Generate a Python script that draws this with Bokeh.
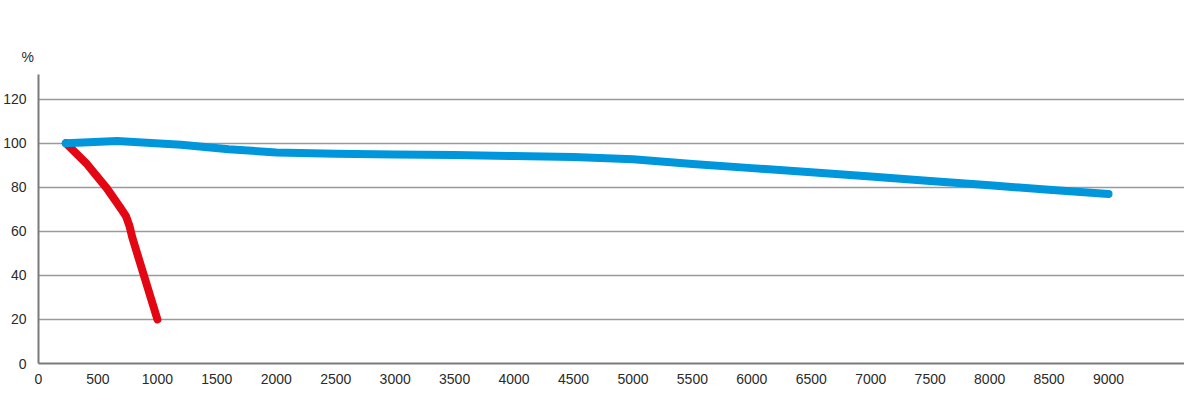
from bokeh.plotting import figure
from bokeh.models import Range1d, FixedTicker, Title
from bokeh.embed import file_html
from bokeh.resources import INLINE

# values
x_ticks = list(range(0, 9001, 500))
y_ticks = [0, 20, 40, 60, 80, 100, 120]

blue_x = [230, 660, 1200, 1600, 2000, 2500, 3000, 3500, 4000, 4500, 5000,
          5500, 6000, 6500, 7000, 7500, 8000, 8500, 9000]
blue_y = [100, 101, 99.3, 97.3, 95.8, 95.2, 94.9, 94.6, 94.2, 93.7, 92.7,
          90.6, 88.7, 86.8, 84.9, 82.8, 80.9, 78.9, 77]

red_x = [230, 400, 575, 685, 735, 765, 790, 1000]
red_y = [100, 91, 79.5, 71, 67, 62.5, 57, 20]

FONT = "Liberation Sans"

p = figure(width=1184, height=386, output_backend="svg", toolbar_location=None,
           x_range=Range1d(0, 9639), y_range=Range1d(0, 131.2),
           min_border_left=37, min_border_right=0, min_border_top=74,
           min_border_bottom=22)
p.outline_line_color = None
p.background_fill_color = "white"
p.border_fill_color = "white"

p.xgrid.grid_line_color = None
p.ygrid.grid_line_color = "#9a9a9a"
p.ygrid.grid_line_width = 1.3
p.ygrid.ticker = FixedTicker(ticks=y_ticks)

p.xaxis.ticker = FixedTicker(ticks=x_ticks)
p.yaxis.ticker = FixedTicker(ticks=y_ticks)
for ax in (p.xaxis, p.yaxis):
    ax.axis_line_color = "#7a7a7a"
    ax.axis_line_width = 2
    ax.major_tick_line_color = None
    ax.minor_tick_line_color = None
    ax.major_label_text_font = FONT
    ax.major_label_text_font_size = "14px"
    ax.major_label_text_color = "#2a2a2a"
p.xaxis.major_label_standoff = 4
p.yaxis.major_label_standoff = 6

p.line(red_x, red_y, line_color="#e30613", line_width=8,
       line_cap="round", line_join="round")
p.line(blue_x, blue_y, line_color="#0096dc", line_width=8,
       line_cap="round", line_join="round")

p.add_layout(Title(text="%", align="left", offset=-17, standoff=19,
                   text_font=FONT, text_font_size="14px",
                   text_font_style="normal", text_color="#2a2a2a"), "above")

open("out.html", "w").write(file_html(p, INLINE))
